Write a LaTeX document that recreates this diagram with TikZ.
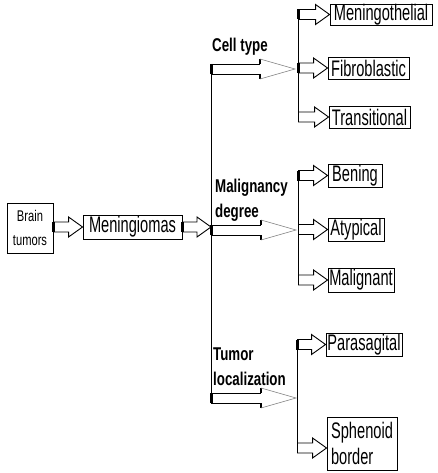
\documentclass[tikz,border=0pt]{standalone}
\usepackage{fontspec}
\setmainfont{Liberation Sans}
\newfontfamily\narrowfont[FakeStretch=0.72]{Liberation Sans}
\newfontfamily\leaffont[FakeStretch=0.65]{Liberation Sans}
\usetikzlibrary{calc}

% hollow block arrow: from the x of #2 to the tip #3
\newcommand{\hollowarrow}[3][thin]{%
  \draw[hollow] let \p1=(#2), \p2=(#3) in
    (\x1,{\y2+5pt}) -- ({\x2-14pt},{\y2+5pt}) -- ({\x2-14pt},{\y2+10pt})
    -- (\x2,\y2) -- ({\x2-14pt},{\y2-10pt}) -- ({\x2-14pt},{\y2-5pt}) -- (\x1,{\y2-5pt});
  \draw[#1] let \p1=(#2), \p2=(#3) in (\x1,{\y2+5pt}) -- (\x1,{\y2-5pt});
}
% long branch arrow with grey head: from the x of #1 to the tip #2
\newcommand{\brancharrow}[2]{%
  \draw[hollow] let \p1=(#1), \p2=(#2) in
    (\x1,{\y2+5pt}) -- ({\x2-35pt},{\y2+5pt})
    (\x1,{\y2-5pt}) -- ({\x2-35pt},{\y2-5pt});
  \draw[notch] let \p2=(#2) in
    ({\x2-35pt},{\y2+5pt}) -- ({\x2-35pt},{\y2+10pt})
    ({\x2-35pt},{\y2-5pt}) -- ({\x2-35pt},{\y2-10pt});
  \draw[headline] let \p2=(#2) in
    ({\x2-35pt},{\y2+10pt}) -- (\x2,\y2) -- ({\x2-35pt},{\y2-10pt});
  \draw[startcap] let \p1=(#1), \p2=(#2) in (\x1,{\y2+5pt}) -- (\x1,{\y2-5pt});
}

\begin{document}
\begin{tikzpicture}[x=1pt, y=-1pt,
  box/.style={draw, line width=0.9pt, inner sep=0pt},
  leaf/.style={box, font=\leaffont\fontsize{22.5}{26}\selectfont},
  branchlabel/.style={inner sep=0pt, align=left, font=\narrowfont\bfseries\fontsize{18.5}{25}\selectfont},
  hollow/.style={line width=0.9pt, line join=miter},
  notch/.style={line width=2pt},
  startcap/.style={line width=3pt},
  headline/.style={gray, line width=0.6pt},
  stem/.style={line width=1pt}]

  \useasboundingbox (0,0) rectangle (438,473);

  % --- Root boxes ---
  \node[box, minimum width=46pt, minimum height=50pt, align=center,
    font=\narrowfont\fontsize{15.5}{24}\selectfont] (brain) at (30,228) {Brain\\tumors};
  \node[leaf, minimum width=99pt, minimum height=24pt] (mening) at (132.5,227) {Meningiomas};

  % --- Leaves ---
  \node[leaf, minimum width=102pt, minimum height=21pt] (meth) at (381,14.5) {Meningothelial};
  \node[leaf, minimum width=81pt, minimum height=22pt] (fibro) at (368.5,68) {Fibroblastic};
  \node[leaf, minimum width=81pt, minimum height=22pt] (trans) at (369.5,117) {Transitional};
  \node[leaf, minimum width=54pt, minimum height=23pt] (bening) at (355,175.5) {Bening};
  \node[leaf, minimum width=56pt, minimum height=23pt] (atyp) at (356,229.5) {Atypical};
  \node[leaf, minimum width=66pt, minimum height=24pt] (malign) at (361,280) {Malignant};
  \node[leaf, minimum width=76pt, minimum height=23pt] (para) at (364,344.5) {Parasagital};
  \node[leaf, minimum width=70pt, minimum height=53pt, align=left] (sphen) at (362,443.5) {Sphenoid\\border};

  % --- Branch labels ---
  \node[branchlabel, anchor=base west] (celltype) at (212,52) {Cell type};
  \node[branchlabel, anchor=north west] (malig) at (215,178.5) {Malignancy\\degree};
  \node[branchlabel, anchor=north west] (local) at (213,348) {Tumor\\localization};

  % --- Columns and tips ---
  \coordinate (trunk) at (211,0);
  \coordinate (colA) at (298,0);
  \coordinate (colB) at (298,0);
  \coordinate (colC) at (297,0);
  \coordinate (tipA) at (295,69);
  \coordinate (tipB) at (296,230);
  \coordinate (tipC) at (296,398);
  \coordinate (sphenin) at ($(sphen.west)+(0,4.5)$);

  % --- Trunk and branch stems ---
  \draw[stem] ($(trunk |- tipA)+(0,-5)$) -- ($(trunk |- tipC)+(0,5)$);
  \draw[stem] ($(colA |- meth.west)+(0,-5)$) -- ($(colA |- trans.west)+(0,5)$);
  \draw[stem] ($(colB |- bening.west)+(0,-5)$) -- ($(colB |- malign.west)+(0,5)$);
  \draw[stem] ($(colC |- para.west)+(0,-5)$) -- ($(colC |- sphenin)+(0,5)$);

  % --- Root arrows ---
  \hollowarrow[startcap]{brain.east}{mening.west}
  \hollowarrow[startcap]{mening.east}{trunk |- mening.east}

  % --- Branch arrows ---
  \brancharrow{trunk}{tipA}
  \brancharrow{trunk}{tipB}
  \brancharrow{trunk}{tipC}

  % --- Leaf arrows ---
  \hollowarrow[startcap]{colA}{meth.west}
  \hollowarrow[startcap]{colA}{fibro.west}
  \hollowarrow{colA}{trans.west}
  \hollowarrow[startcap]{colB}{bening.west}
  \hollowarrow{colB}{atyp.west}
  \hollowarrow{colB}{malign.west}
  \hollowarrow[startcap]{colC}{para.west}
  \hollowarrow{colC}{sphenin}

\end{tikzpicture}
\end{document}
